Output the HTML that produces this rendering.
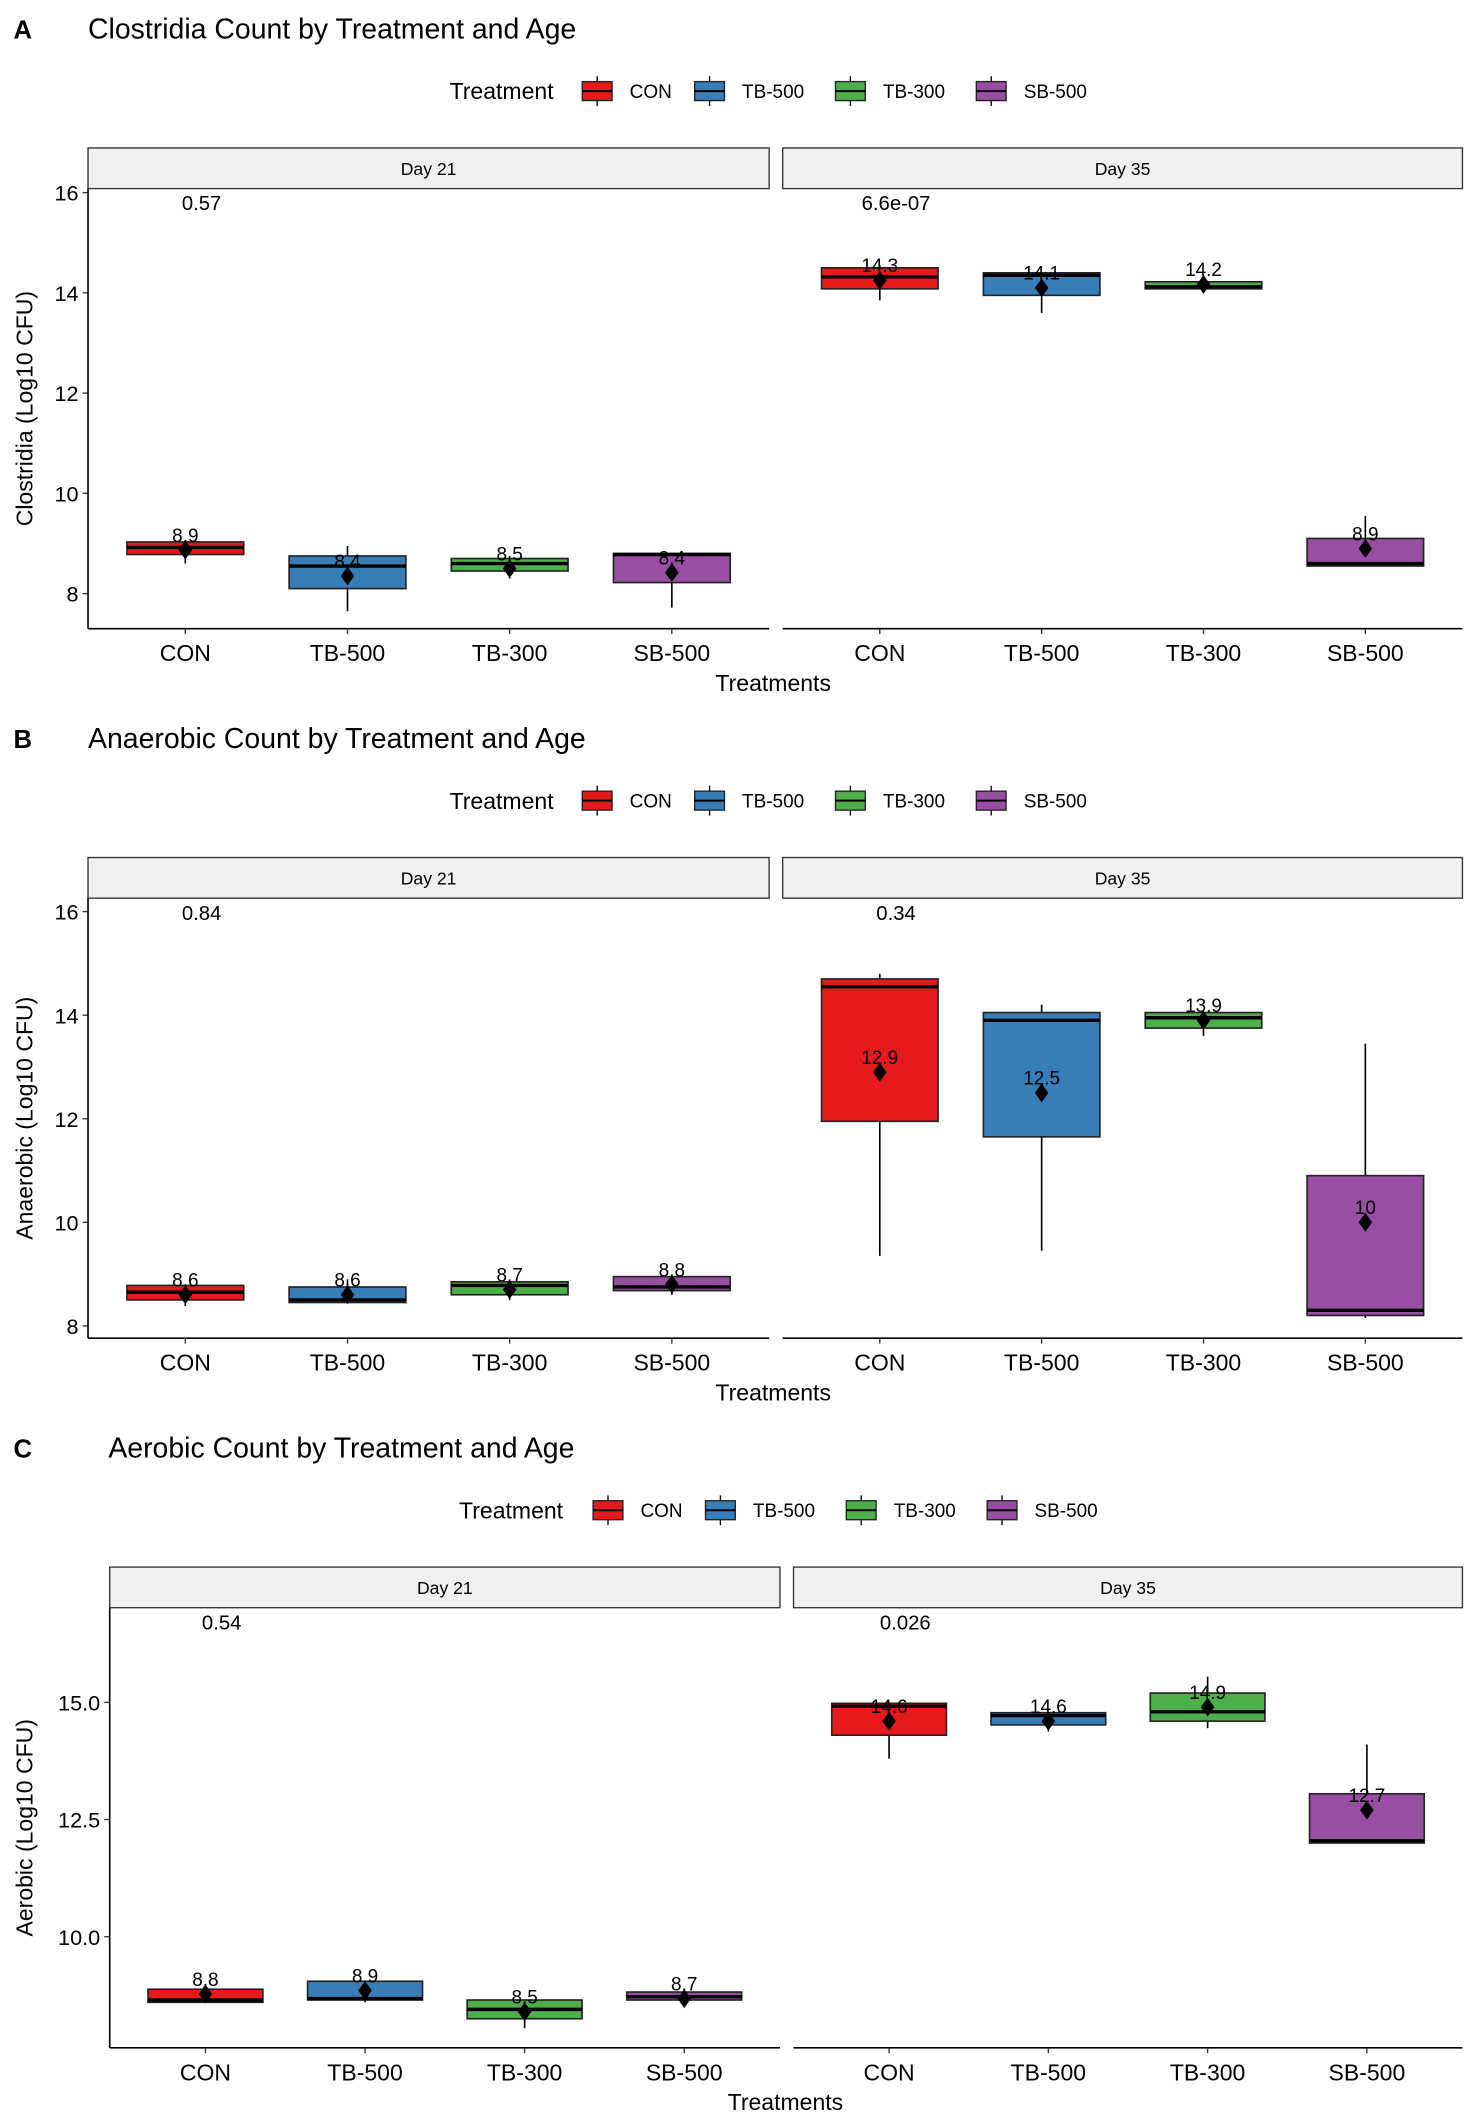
<!DOCTYPE html>
<html><head><meta charset="utf-8"><style>
html,body{margin:0;padding:0;background:#fff}
svg{display:block}
text{font-family:"Liberation Sans",Arial,sans-serif;fill:#000}
</style></head><body>
<svg id="fig" width="1476" height="2124" viewBox="0 0 1090 1568" xmlns="http://www.w3.org/2000/svg"></svg>
<script>
// ---- data ----
const categories = ["CON","TB-500","TB-300","SB-500"];
const days = ["Day 21","Day 35"];
const colors = ["#E41A1C","#377EB8","#4DAF4A","#984EA3"];
// each stat: [whiskerLow, q1, median, q3, whiskerHigh, mean]
const clostridiaD21 = [[8.6,8.78,8.92,9.03,9.05,8.87],[7.65,8.1,8.55,8.75,8.95,8.35],[8.3,8.45,8.6,8.7,8.75,8.5],[7.72,8.22,8.78,8.8,8.8,8.42]];
const clostridiaD35 = [[13.85,14.08,14.32,14.5,14.55,14.25],[13.6,13.95,14.35,14.4,14.4,14.1],[14.05,14.08,14.12,14.22,14.25,14.17],[8.55,8.55,8.6,9.1,9.55,8.9]];
const clostridiaLabels = [["8.9","8.4","8.5","8.4"],["14.3","14.1","14.2","8.9"]];
const clostridiaP = ["0.57","6.6e-07"];
const anaerobicD21 = [[8.38,8.5,8.65,8.78,8.8,8.6],[8.45,8.45,8.5,8.75,8.9,8.6],[8.5,8.6,8.78,8.85,8.85,8.7],[8.6,8.68,8.75,8.95,8.95,8.8]];
const anaerobicD35 = [[9.35,11.95,14.55,14.7,14.8,12.9],[9.45,11.65,13.9,14.05,14.2,12.5],[13.6,13.75,13.95,14.05,14.05,13.9],[8.15,8.2,8.3,10.9,13.45,10]];
const anaerobicLabels = [["8.6","8.6","8.7","8.8"],["12.9","12.5","13.9","10"]];
const anaerobicP = ["0.84","0.34"];
const aerobicD21 = [[8.6,8.6,8.65,8.88,8.88,8.78],[8.6,8.65,8.68,9.05,9.05,8.85],[8.05,8.25,8.45,8.65,8.65,8.4],[8.6,8.65,8.72,8.82,8.85,8.68]];
const aerobicD35 = [[13.8,14.3,14.92,14.98,14.98,14.6],[14.38,14.52,14.72,14.78,14.8,14.6],[14.45,14.6,14.8,15.2,15.55,14.9],[12.0,12.0,12.05,13.05,14.1,12.7]];
const aerobicLabels = [["8.8","8.9","8.5","8.7"],["14.6","14.6","14.9","12.7"]];
const aerobicP = ["0.54","0.026"];
const clostridiaTicks = [8,10,12,14,16];
const anaerobicTicks = [8,10,12,14,16];
const aerobicTicks = [10.0,12.5,15.0];

const NS="http://www.w3.org/2000/svg";
const svg=document.getElementById('fig');
function el(tag,attrs,parent,txt){const e=document.createElementNS(NS,tag);for(const k in attrs)e.setAttribute(k,attrs[k]);if(txt!==undefined)e.textContent=txt;(parent||svg).appendChild(e);return e;}

function panel(cfg){
  const g=el('g',{});
  
  
  const t1=el('text',{x:10,y:cfg.titleY,'font-size':19,'font-weight':'bold'},g,cfg.letter);
  
  
  const t2=el('text',{x:cfg.titleX,y:cfg.titleY,'font-size':21},g,cfg.title);
  
  
  const lg=el('g',{},g);
  
  
  const ly=cfg.titleY+39;
  el('text',{x:cfg.legX,y:ly+6,'font-size':17},lg,'Treatment');
  categories.forEach((c,i)=>{
    const kx=cfg.legKeys[i];
    const kg=el('g',{},lg);
    
    
    el('line',{x1:kx+11,x2:kx+11,y1:ly-11,y2:ly+11,stroke:'#000','stroke-width':1},kg);
    el('rect',{x:kx,y:ly-7,width:22,height:14,fill:colors[i],stroke:'#222','stroke-width':1},kg);
    el('line',{x1:kx,x2:kx+22,y1:ly,y2:ly,stroke:'#000','stroke-width':1.5},kg);
    el('text',{x:kx+35,y:ly+5,'font-size':14},kg,c);
  });
  const yS=v=>cfg.top+(cfg.ymax-v)/(cfg.ymax-cfg.ymin)*(cfg.bottom-cfg.top);
  cfg.ticks.forEach(t=>{
    const y=yS(t);
    const tl=el('text',{x:cfg.facets[0][0]-7,y:y+6,'font-size':16,'text-anchor':'end',fill:'#333'},g,cfg.tickFmt(t));
    
    
    el('line',{x1:cfg.facets[0][0]-4,x2:cfg.facets[0][0],y1:y,y2:y,stroke:'#333'},g);
  });
  const yt=el('text',{transform:`translate(24,${(cfg.top+cfg.bottom)/2}) rotate(-90)`,'font-size':17,'text-anchor':'middle'},g,cfg.ylabel);
  
  
  const xt=el('text',{x:cfg.xTitleX,y:cfg.bottom+46,'font-size':17,'text-anchor':'middle'},g,'Treatments');
  
  
  cfg.facets.forEach((f,fi)=>{
    const [x0,x1]=f;
    const fg=el('g',{},g);
    
    
    const strip=el('rect',{x:x0,y:cfg.top-30,width:x1-x0,height:30,fill:'#f0f0f0',stroke:'#333','stroke-width':1},fg);
    
    
    el('text',{x:(x0+x1)/2,y:cfg.top-10,'font-size':13,'text-anchor':'middle',fill:'#1a1a1a'},fg,days[fi]);
    el('line',{x1:x0,x2:x1,y1:cfg.bottom,y2:cfg.bottom,stroke:'#000','stroke-width':1.2},fg);
    if(fi===0) el('line',{x1:x0,x2:x0,y1:cfg.top,y2:cfg.bottom,stroke:'#000','stroke-width':1.2},fg);
    const n=categories.length, unit=(x1-x0)/(n-1+1.2);
    const xS=i=>x0+unit*(0.6+i);
    const stats=cfg.data[fi];
    categories.forEach((c,i)=>{
      const cx=xS(i), bw=unit*0.72;
      const s=stats[i];
      el('line',{x1:cx,x2:cx,y1:cfg.bottom,y2:cfg.bottom+4,stroke:'#333'},fg);
      const xl=el('text',{x:cx,y:cfg.bottom+24,'font-size':17,'text-anchor':'middle',fill:'#222'},fg,c);
      
      
      const bx=el('g',{},fg);
      
      
      el('line',{x1:cx,x2:cx,y1:yS(s[0]),y2:yS(s[4]),stroke:'#000','stroke-width':1.2},bx);
      el('rect',{x:cx-bw/2,y:yS(s[3]),width:bw,height:Math.max(yS(s[1])-yS(s[3]),1),fill:colors[i],stroke:'#222','stroke-width':1.2},bx);
      el('line',{x1:cx-bw/2,x2:cx+bw/2,y1:yS(s[2]),y2:yS(s[2]),stroke:'#000','stroke-width':2.5},bx);
      const my=yS(s[5]);
      el('path',{d:`M${cx} ${my-7}L${cx+5} ${my}L${cx} ${my+7}L${cx-5} ${my}Z`,fill:'#000'},bx);
      el('text',{x:cx,y:my-6,'font-size':14,'text-anchor':'middle'},bx,cfg.labels[fi][i]);
    });
    const pt=el('text',{x:xS(0)+12,y:cfg.top+16,'font-size':15,'text-anchor':'middle'},fg,cfg.p[fi]);
    
    
  });
}
panel({id:'clostridia',letter:'A',title:'Clostridia Count by Treatment and Age',titleX:65,titleY:28,
  legX:332,legKeys:[430,513,617,721],top:139,bottom:464,ymin:7.3,ymax:16.08,ticks:clostridiaTicks,tickFmt:t=>String(t),
  facets:[[65,568],[578,1080]],data:[clostridiaD21,clostridiaD35],labels:clostridiaLabels,p:clostridiaP,
  ylabel:'Clostridia (Log10 CFU)',xTitleX:571});
panel({id:'anaerobic',letter:'B',title:'Anaerobic Count by Treatment and Age',titleX:65,titleY:552,
  legX:332,legKeys:[430,513,617,721],top:663,bottom:988,ymin:7.76,ymax:16.26,ticks:anaerobicTicks,tickFmt:t=>String(t),
  facets:[[65,568],[578,1080]],data:[anaerobicD21,anaerobicD35],labels:anaerobicLabels,p:anaerobicP,
  ylabel:'Anaerobic (Log10 CFU)',xTitleX:571});
panel({id:'aerobic',letter:'C',title:'Aerobic Count by Treatment and Age',titleX:80,titleY:1076,
  legX:339,legKeys:[438,521,625,729],top:1187,bottom:1512,ymin:7.63,ymax:17.02,ticks:aerobicTicks,tickFmt:t=>t.toFixed(1),
  facets:[[81,576],[586,1080]],data:[aerobicD21,aerobicD35],labels:aerobicLabels,p:aerobicP,
  ylabel:'Aerobic (Log10 CFU)',xTitleX:580});
</script>
</body></html>
